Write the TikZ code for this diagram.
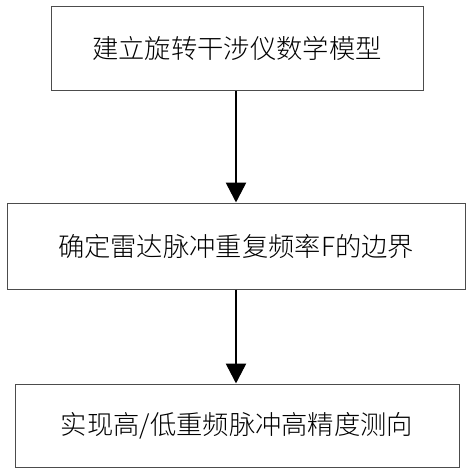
\documentclass[tikz,border=0pt]{standalone}
\usepackage{fontspec}
\newfontfamily\cjk{Noto Sans CJK SC Light}
\usetikzlibrary{arrows.meta}
\begin{document}
\begin{tikzpicture}[x=1pt,y=-1pt,
  stepbox/.style={draw=black!70,line width=1pt,minimum width=#1,minimum height=84pt,inner sep=0pt,font=\cjk\fontsize{26.3}{30}\selectfont},
  flow/.style={draw=black,line width=2.6pt,-{Triangle[width=20pt,length=20pt]}}]
\useasboundingbox (0,0) rectangle (474,475);
\node[stepbox=372pt] (a) at (237,48.5) {建立旋转干涉仪数学模型};
\node[stepbox=458pt,minimum height=86pt] (b) at (236,246) {确定雷达脉冲重复频率F的边界};
\node[stepbox=444pt,minimum height=83pt] (c) at (237,425.5) {实现高/低重频脉冲高精度测向};
\draw[flow] (a.south -| 236,0) -- (b.north -| 236,0);
\draw[flow] (b.south -| 236,0) -- (c.north -| 236,0);
\end{tikzpicture}
\end{document}
